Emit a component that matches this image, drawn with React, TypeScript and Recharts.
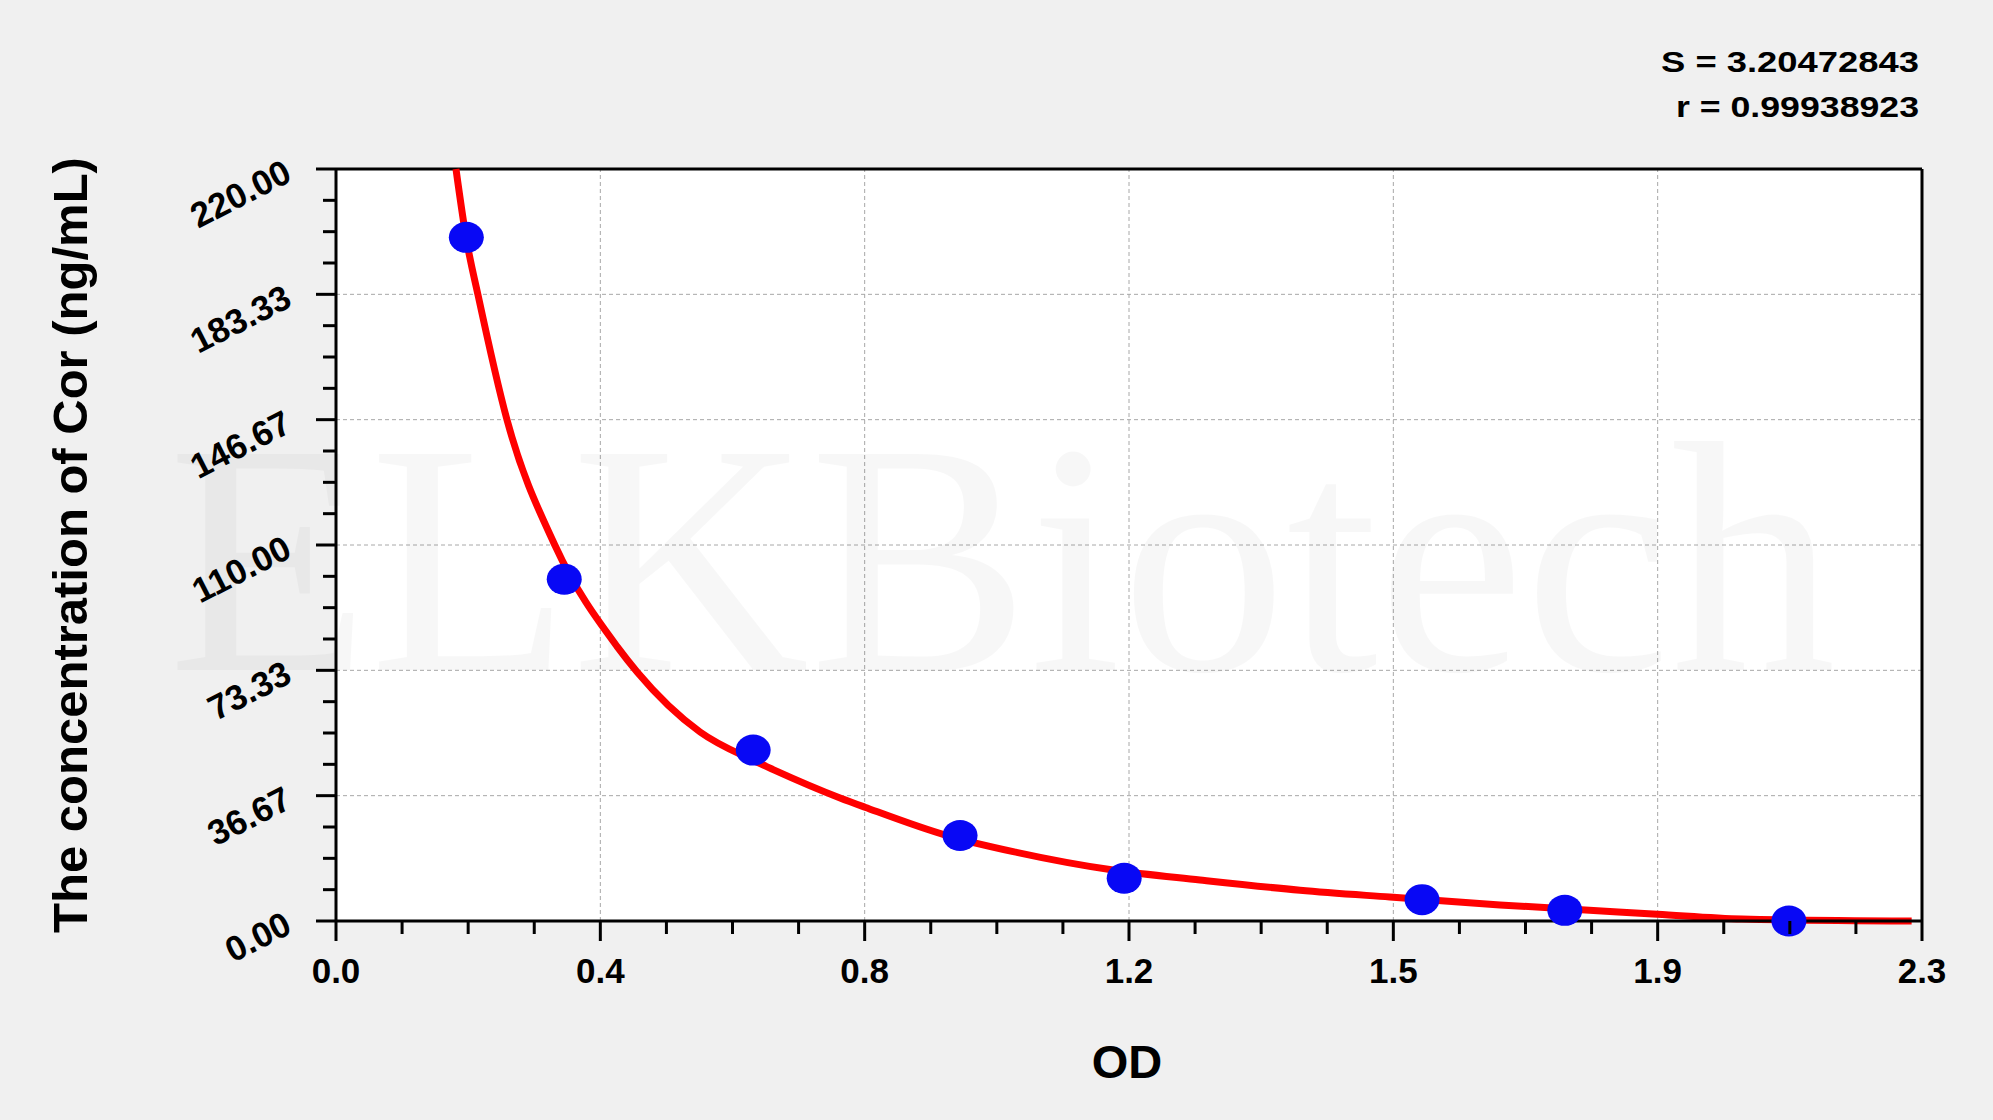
import { ComposedChart, Line, Scatter, XAxis, YAxis, CartesianGrid, ReferenceLine } from "recharts";

// standards (OD vs concentration) and the fitted curve
const STD_OD = [0.189, 0.331, 0.605, 0.905, 1.143, 1.575, 1.782, 2.107];
const STD_CONC = [200, 100, 50, 25, 12.5, 6.25, 3.125, 0];

const FIT_OD = [0.174, 0.189, 0.206, 0.248, 0.318, 0.408, 0.437, 0.528, 0.605, 0.634, 0.731, 0.767, 0.886, 0.982, 1.127, 1.253, 1.398, 1.528, 1.688, 1.916, 2.039, 2.285];
const FIT_CONC = [220, 199.5, 183.1, 146.6, 109.7, 80.2, 72.8, 55.3, 47.0, 44.3, 36.0, 33.3, 25.0, 20.3, 14.9, 12.0, 9.0, 7.0, 4.7, 2.0, 0.6, 0];

const X_MAJOR = [0, 0.38333, 0.76667, 1.15, 1.53333, 1.91667, 2.3];
const X_LABELS = ["0.0", "0.4", "0.8", "1.2", "1.5", "1.9", "2.3"];
const Y_MAJOR = [0, 36.667, 73.333, 110, 146.667, 183.333, 220];
const Y_LABELS = ["0.00", "36.67", "73.33", "110.00", "146.67", "183.33", "220.00"];

const S_TEXT = "S = 3.20472843";
const R_TEXT = "r = 0.99938923";

const FONT = "'Liberation Sans', Arial, sans-serif";

// 4 minor steps between each pair of major ticks
const withMinor = (major: number[]) =>
  major.flatMap((v, i) => (i === 0 ? [v] : [1, 2, 3, 4].map((k) => major[i - 1] + ((v - major[i - 1]) * k) / 4)));

const xTicks = withMinor(X_MAJOR);
const yTicks = withMinor(Y_MAJOR);

const points = STD_OD.map((x, i) => ({ x, y: STD_CONC[i] }));
const fit = FIT_OD.map((x, i) => ({ x, y: FIT_CONC[i] }));

const XTick = (props: any) => {
  const { x, y, index } = props;
  const major = index % 4 === 0;
  return (
    <g>
      <line x1={x} y1={y} x2={x} y2={y + (major ? 20 : 13)} stroke="#000" strokeWidth={3} />
      {major && (
        <text x={x} y={y + 62} textAnchor="middle" fontFamily={FONT} fontWeight="bold" fontSize={35} fill="#000">
          {X_LABELS[index / 4]}
        </text>
      )}
    </g>
  );
};

const YTick = (props: any) => {
  const { x, y, index } = props;
  const major = index % 4 === 0;
  const tx = x - 48;
  return (
    <g>
      <line x1={x} y1={y} x2={x - (major ? 20 : 13)} y2={y} stroke="#000" strokeWidth={3} />
      {major && (
        <text
          x={tx}
          y={y}
          dy={12.5}
          textAnchor="end"
          fontFamily={FONT}
          fontWeight="bold"
          fontSize={35}
          fill="#000"
          transform={`rotate(-27, ${tx}, ${y})`}
        >
          {Y_LABELS[index / 4]}
        </text>
      )}
    </g>
  );
};

export default function App() {
  return (
    <div style={{ position: "absolute", left: 0, top: 0, width: 1993, height: 1120, background: "#f0f0f0" }}>
      <ComposedChart width={1993} height={1120} margin={{ top: 169, right: 71, bottom: 0, left: 0 }}>
        <CartesianGrid fill="#ffffff" horizontal={false} vertical={false} />
        <XAxis
          dataKey="x"
          type="number"
          domain={[0, 2.3]}
          ticks={xTicks}
          interval={0}
          height={199}
          tickSize={0}
          tickMargin={0}
          tickLine={false}
          axisLine={{ stroke: "#000", strokeWidth: 3 }}
          tick={(p: any) => <XTick {...p} />}
        />
        <YAxis
          type="number"
          domain={[0, 220]}
          ticks={yTicks}
          interval={0}
          width={336}
          tickSize={0}
          tickMargin={0}
          tickLine={false}
          axisLine={{ stroke: "#000", strokeWidth: 3 }}
          tick={(p: any) => <YTick {...p} />}
        />
        {Y_MAJOR.slice(1, -1).map((v) => (
          <ReferenceLine key={`gy-${v}`} y={v} stroke="#a8a8a8" strokeWidth={1} strokeDasharray="4 3" />
        ))}
        {X_MAJOR.slice(1, -1).map((v) => (
          <ReferenceLine key={`gx-${v}`} x={v} stroke="#a8a8a8" strokeWidth={1} strokeDasharray="4 3" />
        ))}
        <ReferenceLine y={220} stroke="#000" strokeWidth={3} />
        <ReferenceLine x={2.3} stroke="#000" strokeWidth={3} />
        <Scatter
          data={points}
          dataKey="y"
          isAnimationActive={false}
          shape={(p: any) => <ellipse cx={p.cx} cy={p.cy} rx={17.5} ry={15.5} fill="#0808f5" />}
        />
        <Line
          data={fit}
          dataKey="y"
          type="monotoneX"
          stroke="#ff0000"
          strokeWidth={7}
          dot={false}
          activeDot={false}
          isAnimationActive={false}
        />
      </ComposedChart>
      <svg width={1993} height={1120} style={{ position: "absolute", left: 0, top: 0, pointerEvents: "none" }}>
        <text x={168} y={670} fontFamily="'Liberation Serif', 'Times New Roman', serif" fontSize={330} fill="rgba(0,0,0,0.03)">
          ELKBiotech
        </text>
        <text x={1919} y={72} textAnchor="end" fontFamily={FONT} fontWeight="bold" fontSize={30} textLength={258} lengthAdjust="spacingAndGlyphs" fill="#000">
          {S_TEXT}
        </text>
        <text x={1919} y={117} textAnchor="end" fontFamily={FONT} fontWeight="bold" fontSize={30} textLength={243} lengthAdjust="spacingAndGlyphs" fill="#000">
          {R_TEXT}
        </text>
        <text x={1127} y={1078} textAnchor="middle" fontFamily={FONT} fontWeight="bold" fontSize={47} fill="#000">
          OD
        </text>
        <text transform="translate(87,545) rotate(-90)" textAnchor="middle" fontFamily={FONT} fontWeight="bold" fontSize={49} fill="#000">
          The concentration of Cor (ng/mL)
        </text>
      </svg>
    </div>
  );
}
